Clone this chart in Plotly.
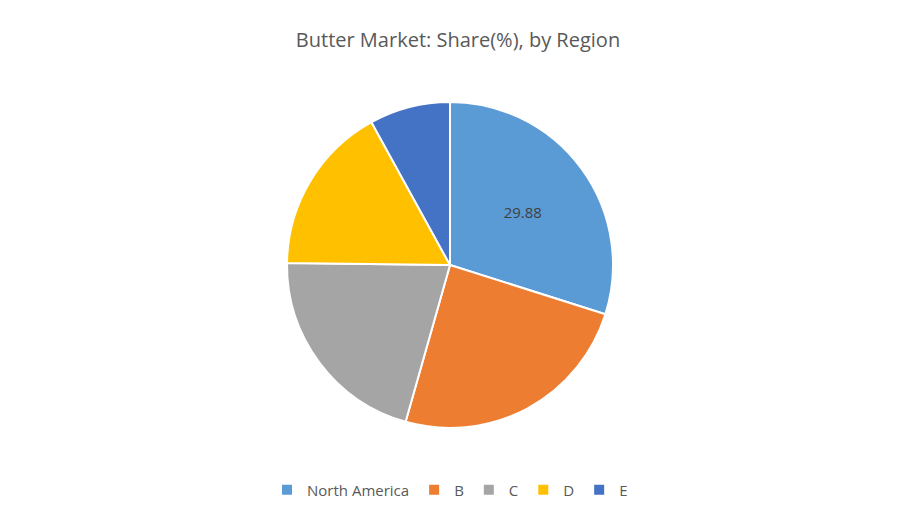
import plotly.graph_objects as go

regions = ["North America", "B", "C", "D", "E"]
shares = [29.88, 24.5, 20.8, 16.8, 8.0]
labels_shown = ["29.88", "", "", "", ""]
colors = ["#5B9BD5", "#ED7D31", "#A5A5A5", "#FFC000", "#4472C4"]

fig = go.Figure(go.Pie(
    labels=regions, values=shares, text=labels_shown, textinfo="text",
    textposition="inside", insidetextorientation="horizontal",
    sort=False, direction="clockwise", rotation=0,
    marker=dict(colors=colors, line=dict(color="white", width=2)),
    textfont=dict(size=15, color="#404040"),
))
fig.update_layout(
    width=900, height=525, paper_bgcolor="white",
    font=dict(family="Open Sans, Liberation Sans, sans-serif", color="#595959"),
    title=dict(text="Butter Market: Share(%), by Region", x=0.5, xanchor="center",
               y=0.94, yanchor="middle", font=dict(size=20, color="#595959")),
    margin=dict(t=94, b=105, l=0, r=16, autoexpand=False),
    legend=dict(orientation="h", x=0.5, xanchor="center", y=-0.19, yanchor="middle",
                font=dict(size=15, color="#595959")),
)
fig.write_html("out.html")
